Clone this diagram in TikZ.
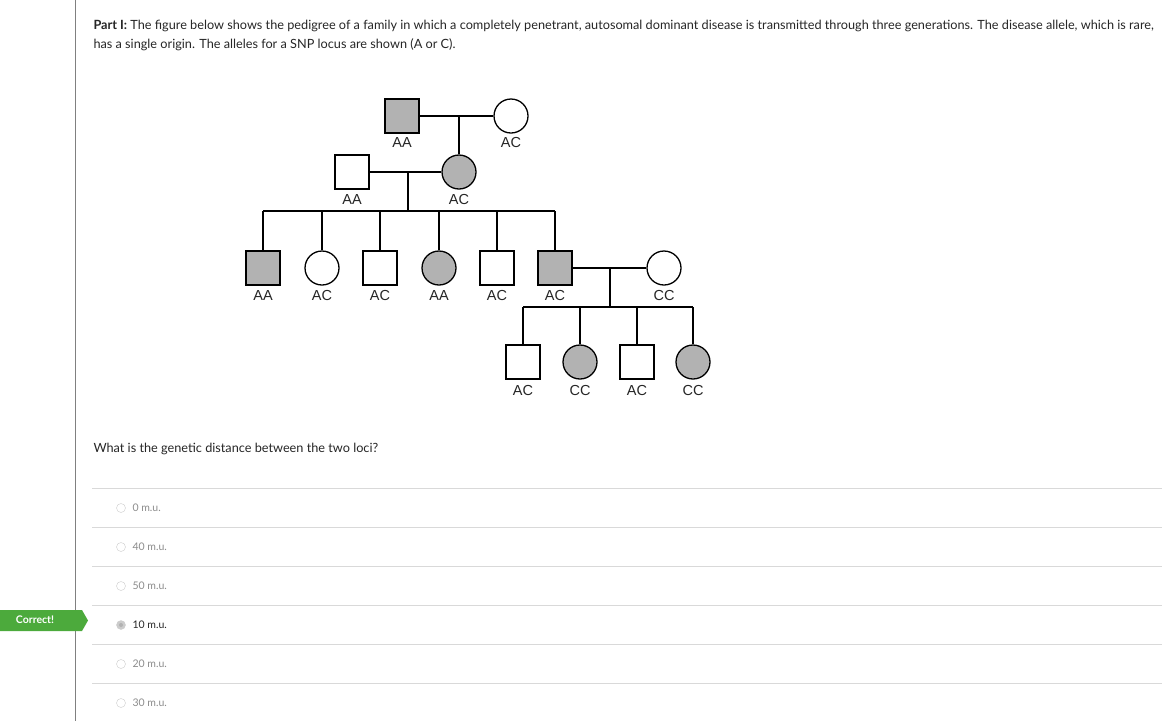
\documentclass[tikz,border=0pt]{standalone}
\usepackage{fontspec}
\setmainfont{Lato}
\setsansfont{Liberation Sans}
\definecolor{badge}{HTML}{4CAA3C}
\begin{document}
\begin{tikzpicture}[x=1pt,y=-1pt,
  sq/.style={draw=black,line width=1.3pt,minimum size=34pt,inner sep=0pt,fill=white},
  ci/.style={circle,draw=black,line width=1.3pt,minimum size=34pt,inner sep=0pt,fill=white},
  aff/.style={fill=gray!60},
  ln/.style={line width=1.3pt},
  gt/.style={font=\sffamily\fontsize{14.5}{14.5}\selectfont,text=black!85},
  opt/.style={anchor=west,font=\fontsize{10.5}{12}\selectfont,text=black!45},
  rad/.style={circle,draw=black!20,minimum size=9pt,inner sep=0pt},
  sep/.style={draw=black!15,line width=0.6pt},
  body/.style={anchor=west,font=\fontsize{12.7}{15}\selectfont,text=black!85}]
\useasboundingbox (0,0) rectangle (1162,721);
\fill[white] (0,0) rectangle (1162,721);
\draw[black!50,line width=0.8pt] (75,0) -- (75,721);
\node[body] (t1) at (90,26) {\textbf{Part I:} The figure below shows the pedigree of a family in which a completely penetrant, autosomal dominant disease is transmitted through three generations. The disease allele, which is rare,};
\node[body] (t2) at (90,45) {has a single origin. The alleles for a SNP locus are shown (A or C).};
% Gen I
\node[sq,aff] (i1) at (402,116) {};
\node[ci] (i2) at (511,116) {};
\node[gt] at (402,143) {AA};
\node[gt] at (511,143) {AC};
% Gen II
\node[sq] (ii1) at (352,172) {};
\node[ci,aff] (ii2) at (459,172) {};
\node[gt] at (352,200) {AA};
\node[gt] at (459,200) {AC};
\draw[ln] (i1) -- (i2);
\coordinate (m1) at (459,116);
\draw[ln] (m1) -- (ii2);
\draw[ln] (ii1) -- (ii2);
\coordinate (m2) at (408,172);
\coordinate (s2) at (408,211);
\draw[ln] (m2) -- (s2);
% Gen III
\foreach \n/\x/\s/\a/\g in {c1/263/sq/aff/AA,c2/322/ci//AC,c3/380/sq//AC,c4/439/ci/aff/AA,c5/497/sq//AC,c6/555/sq/aff/AC}{
  \node[\s,\a] (\n) at (\x,268) {};
  \node[gt] at (\x,296) {\g};
  \draw[ln] (\x,211) -- (\n);
}
\draw[ln] (c1.north |- s2) -- (c6.north |- s2);
\node[ci] (w) at (664,268) {};
\node[gt] at (664,296) {CC};
\draw[ln] (c6) -- (w);
\coordinate (m3) at (610,268);
\coordinate (s3) at (610,307);
\draw[ln] (m3) -- (s3);
\foreach \n/\x/\s/\a/\g in {d1/523/sq//AC,d2/580/ci/aff/CC,d3/637/sq//AC,d4/693/ci/aff/CC}{
  \node[\s,\a] (\n) at (\x,362) {};
  \node[gt] at (\x,390) {\g};
  \draw[ln] (\x,307) -- (\n);
}
\draw[ln] (d1.north |- s3) -- (d4.north |- s3);
% question
\node[body] (q) at (90,449) {What is the genetic distance between the two loci?};
\foreach \y in {488,527,566,605,644,683} \draw[sep] (92,\y) -- (1162,\y);
\foreach \t/\y in {0/508,40/547,50/586,20/664,30/703}{
  \node[rad] at (121,\y) {};
  \node[opt] at (129,\y) {\t\ m.u.};
}
\node[rad,fill=black!20] (r) at (121,625) {};
\node[circle,fill=black!30,minimum size=4pt,inner sep=0pt] at (121,625) {};
\node[opt,text=black!85] at (129,625) {10 m.u.};
% badge
\fill[badge] (0,610) -- (82,610) -- (88,620.5) -- (82,631) -- (0,631) -- cycle;
\node[font=\bfseries\fontsize{10.5}{12}\selectfont,text=white] (b) at (35,620) {Correct!};
\end{tikzpicture}
\end{document}
